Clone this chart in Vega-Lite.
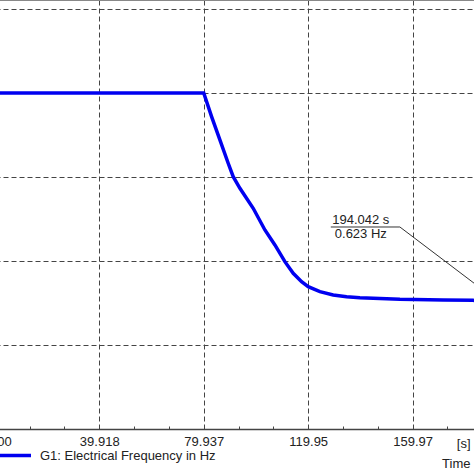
{
  "$schema": "https://vega.github.io/schema/vega-lite/v6.json",
  "width": 479,
  "height": 429,
  "autosize": {"type": "none"},
  "padding": {"left": -5, "top": 0, "right": 0, "bottom": 45},
  "background": "white",
  "config": {"view": {"stroke": null}, "font": "Liberation Sans"},
  "datasets": {
    "curve": [
      {"t": 0, "v": 1.0, "series": "G1: Electrical Frequency in Hz"},
      {"t": 79.94, "v": 1.0, "series": "G1: Electrical Frequency in Hz"},
      {"t": 82.95, "v": 0.9577, "series": "G1: Electrical Frequency in Hz"},
      {"t": 86.13, "v": 0.9161, "series": "G1: Electrical Frequency in Hz"},
      {"t": 89.31, "v": 0.8745, "series": "G1: Electrical Frequency in Hz"},
      {"t": 91.23, "v": 0.8505, "series": "G1: Electrical Frequency in Hz"},
      {"t": 93.80, "v": 0.8298, "series": "G1: Electrical Frequency in Hz"},
      {"t": 98.89, "v": 0.7941, "series": "G1: Electrical Frequency in Hz"},
      {"t": 103.37, "v": 0.7554, "series": "G1: Electrical Frequency in Hz"},
      {"t": 107.20, "v": 0.7286, "series": "G1: Electrical Frequency in Hz"},
      {"t": 111.03, "v": 0.6988, "series": "G1: Electrical Frequency in Hz"},
      {"t": 114.21, "v": 0.6780, "series": "G1: Electrical Frequency in Hz"},
      {"t": 117.42, "v": 0.6630, "series": "G1: Electrical Frequency in Hz"},
      {"t": 119.96, "v": 0.6541, "series": "G1: Electrical Frequency in Hz"},
      {"t": 124.43, "v": 0.6452, "series": "G1: Electrical Frequency in Hz"},
      {"t": 129.53, "v": 0.6393, "series": "G1: Electrical Frequency in Hz"},
      {"t": 134.66, "v": 0.6363, "series": "G1: Electrical Frequency in Hz"},
      {"t": 139.75, "v": 0.6345, "series": "G1: Electrical Frequency in Hz"},
      {"t": 155.07, "v": 0.6316, "series": "G1: Electrical Frequency in Hz"},
      {"t": 171.66, "v": 0.6304, "series": "G1: Electrical Frequency in Hz"},
      {"t": 183.15, "v": 0.6298, "series": "G1: Electrical Frequency in Hz"},
      {"t": 194.042, "v": 0.623, "series": "G1: Electrical Frequency in Hz"}
    ],
    "annot": [
      {"t": 128.6, "v": 0.7607},
      {"t": 155.07, "v": 0.7607},
      {"t": 194.042, "v": 0.623}
    ],
    "labels": [
      {"t": 140.1, "v": 0.7607, "label": "194.042 s", "pos": "top"},
      {"t": 140.1, "v": 0.7607, "label": "0.623 Hz", "pos": "bottom"}
    ]
  },
  "layer": [
    {
      "data": {"name": "curve"},
      "mark": {"type": "line", "strokeWidth": 3.5, "clip": true},
      "encoding": {
        "x": {
          "field": "t", "type": "quantitative",
          "scale": {"domain": [0, 183.45], "nice": false, "zero": false},
          "axis": {
            "values": [0, 39.918, 79.937, 119.95, 159.97],
            "labelExpr": "datum.value == 0 ? '0.000' : toString(datum.value)",
            "labelFlush": false,
            "labelOverlap": false,
            "labelFont": "Liberation Sans",
            "labelFontSize": 13,
            "labelColor": "#222",
            "labelPadding": 9,
            "domainColor": "#444",
            "domainWidth": 1.5,
            "tickColor": "#444",
            "tickSize": -3,
            "grid": true,
            "gridDash": [5, 3],
            "gridColor": "#444",
            "gridWidth": 1,
            "title": ["[s]", "Time"],
            "titleX": 475,
            "titleY": 18,
            "titleAlign": "right",
            "titleAnchor": null,
            "titleBaseline": "alphabetic",
            "titleFont": "Liberation Sans",
            "titleFontWeight": "normal",
            "titleFontSize": 13,
            "titleLineHeight": 20,
            "titleColor": "#222",
            "titleAngle": 0
          }
        },
        "y": {
          "field": "v", "type": "quantitative",
          "scale": {"domain": [0.4, 1.166], "nice": false, "zero": false},
          "axis": {
            "title": null, "labels": false, "ticks": false, "domain": false,
            "grid": true, "values": [0.55, 0.7, 0.85, 1.0, 1.15],
            "gridDash": [5, 3], "gridColor": "#444", "gridWidth": 1
          }
        },
        "color": {
          "field": "series", "type": "nominal",
          "scale": {"domain": ["G1: Electrical Frequency in Hz"], "range": ["#0000f0"]},
          "legend": {
            "orient": "none", "legendX": -7, "legendY": 433,
            "title": null, "symbolType": "stroke", "symbolSize": 1681,
            "symbolStrokeWidth": 3.5, "labelFontSize": 13,
            "labelFont": "Liberation Sans", "labelColor": "#222",
            "labelOffset": 7, "labelLimit": 0, "padding": 0, "offset": 0
          }
        }
      }
    },
    {
      "data": {"name": "annot"},
      "mark": {"type": "line", "color": "#333", "strokeWidth": 1},
      "encoding": {
        "x": {
          "field": "t", "type": "quantitative",
          "axis": {
            "orient": "bottom",
            "values": [13.306, 26.612, 53.25, 66.59, 93.27, 106.61, 133.29, 146.64, 173.3],
            "labels": false, "grid": false, "domain": false,
            "tickSize": -3, "tickColor": "#444", "title": null
          }
        },
        "y": {"field": "v", "type": "quantitative"}
      }
    },
    {
      "data": {"name": "labels"},
      "transform": [{"filter": "datum.pos == 'top'"}],
      "mark": {"type": "text", "baseline": "alphabetic", "dy": -3, "fontSize": 13, "font": "Liberation Sans", "color": "#222"},
      "encoding": {
        "x": {"field": "t", "type": "quantitative"},
        "y": {"field": "v", "type": "quantitative"},
        "text": {"field": "label"}
      }
    },
    {
      "data": {"name": "labels"},
      "transform": [{"filter": "datum.pos == 'bottom'"}],
      "mark": {"type": "text", "baseline": "alphabetic", "dy": 11, "fontSize": 13, "font": "Liberation Sans", "color": "#222"},
      "encoding": {
        "x": {"field": "t", "type": "quantitative"},
        "y": {"field": "v", "type": "quantitative"},
        "text": {"field": "label"}
      }
    }
  ],
  "resolve": {"axis": {"x": "independent"}}
}
